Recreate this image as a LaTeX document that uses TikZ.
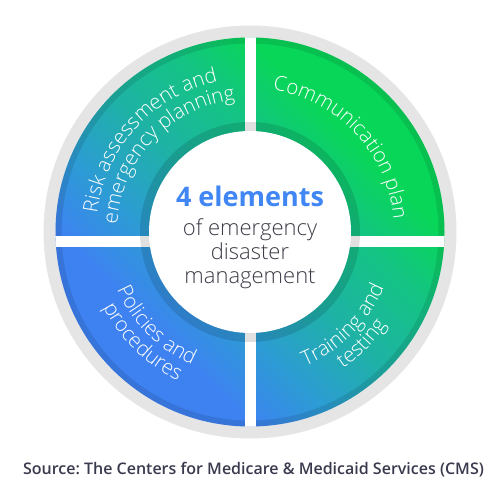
\documentclass[tikz,border=0pt]{standalone}
\usepackage{fontspec}
\usetikzlibrary{decorations.text}
\newfontfamily\qfont{Open Sans Light}
\newfontfamily\bfont{Open Sans Bold}
\newfontfamily\sfont{Open Sans Semibold}
\definecolor{cA}{HTML}{3E82F2}
\definecolor{cB}{HTML}{2D9BD5}
\definecolor{cC}{HTML}{1EB2A5}
\definecolor{cD}{HTML}{14C483}
\definecolor{cE}{HTML}{08D658}
\pgfdeclareverticalshading{discshade}{100bp}{color(0bp)=(cA); color(32.3bp)=(cA); color(40.3bp)=(cB); color(50bp)=(cC); color(59.7bp)=(cD); color(67.7bp)=(cE); color(100bp)=(cE)}
\definecolor{ringgrey}{HTML}{E5E5E5}
\definecolor{centertext}{HTML}{3C3C48}
\definecolor{titleblue}{HTML}{4086F4}
\definecolor{sourcetext}{HTML}{3A3A4E}
\newcommand\qfmt{\qfont\fontsize{20.5}{24}\selectfont\color{white}}
\frenchspacing
\begin{document}
\begin{tikzpicture}[x=1pt,y=1pt,
  qlabel/.style={decorate, decoration={text along path, text align=center, text={#1}}},
  ctext/.style={anchor=base, inner sep=0pt, text=centertext, font=\qfont\fontsize{22}{26}\selectfont}]
\useasboundingbox (0,0) rectangle (500,500);
\fill[white] (0,0) rectangle (500,500);
\coordinate (C) at (250,268);
% rings and disc
\fill[ringgrey] (C) circle[radius=206.5];
\shade[shading=discshade, shading angle=-45] (C) circle[radius=194.5];
\fill[black, opacity=0.1, even odd rule] (C) circle[radius=194.5] (C) circle[radius=188.5];
\begin{scope}
  \clip (C) circle[radius=194.6];
  \fill[white] (245,0) rectangle (256,500);
  \fill[white] (0,253) rectangle (500,264);
\end{scope}
\fill[black, opacity=0.12] (C) circle[radius=110];
\fill[white] (C) circle[radius=101];
% curved labels
\path[qlabel={|\qfmt|Risk assessment and}]
  (C) ++(207.5:154) arc[start angle=207.5, end angle=67.5, radius=154];
\path[qlabel={|\qfmt|emergency planning}]
  (C) ++(206.5:133) arc[start angle=206.5, end angle=66.5, radius=133];
\path[qlabel={|\qfmt|Communication plan}]
  (C) ++(113:144) arc[start angle=113, end angle=-27, radius=144];
\path[qlabel={|\qfmt|Policies and}]
  (C) ++(155:145) arc[start angle=155, end angle=295, radius=145];
\path[qlabel={|\qfmt|procedures}]
  (C) ++(155.6:165) arc[start angle=155.6, end angle=295.6, radius=165];
\path[qlabel={|\qfmt|Training and}]
  (C) ++(245:145) arc[start angle=245, end angle=385, radius=145];
\path[qlabel={|\qfmt|testing}]
  (C) ++(245:165) arc[start angle=245, end angle=385, radius=165];
% centre text
\node[anchor=base, inner sep=0pt, text=titleblue, font=\bfont\fontsize{27}{30}\selectfont] (title) at (250,293) {4 elements};
\node[ctext] (l1) at (250,264) {of emergency};
\node[ctext] (l2) at (250,240) {disaster};
\node[ctext] (l3) at (250,216.7) {management};
% source
\node[anchor=base, inner sep=0pt, text=sourcetext, font=\sfont\fontsize{16}{20}\selectfont] (src) at (253.5,25) {Source: The Centers for Medicare \& Medicaid Services (CMS)};
\end{tikzpicture}
\end{document}
